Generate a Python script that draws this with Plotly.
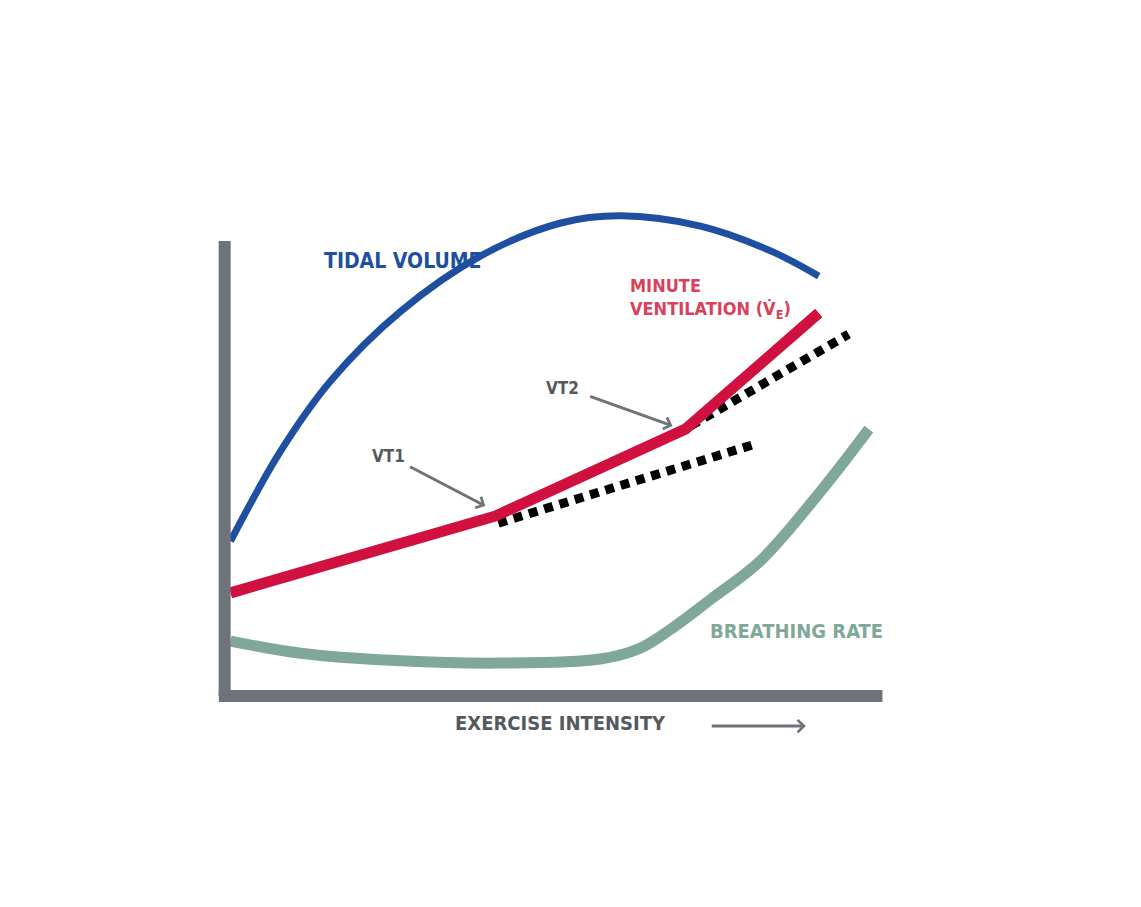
import plotly.graph_objects as go

# data in arbitrary units (x: exercise intensity 0-100, y: response 0-100)
tidal_x = [0, 7.7, 15.4, 26.2, 38.5, 50.8, 60, 72.3, 83.1, 90.5]
tidal_y = [33.3, 53.3, 68.9, 84.4, 96.7, 104, 105.6, 103.3, 97.8, 92.2]

vent_x = [0, 40.8, 70, 90.5]
vent_y = [21.8, 38.9, 58.2, 84]

trend1_x = [41.2, 80.8]
trend1_y = [37.3, 54.9]
trend2_x = [70.8, 95.1]
trend2_y = [58.9, 79.3]

breath_x = [0, 10.8, 26.2, 41.5, 56.9, 63, 68, 74, 81.5, 90.8, 98.2]
breath_y = [11.1, 8.4, 6.7, 6.2, 7.1, 9.5, 14, 20.5, 28.9, 44.4, 58.2]

FONT = "DejaVu Sans Condensed, Liberation Sans Narrow, sans-serif"
GRAY = "#6d7378"

fig = go.Figure()
fig.add_trace(go.Scatter(x=tidal_x, y=tidal_y, mode="lines", line=dict(color="#1f4fa0", width=7, shape="spline")))
fig.add_trace(go.Scatter(x=trend1_x, y=trend1_y, mode="lines", line=dict(color="black", width=9, dash="9px,7px")))
fig.add_trace(go.Scatter(x=trend2_x, y=trend2_y, mode="lines", line=dict(color="black", width=9, dash="9px,7px")))
fig.add_trace(go.Scatter(x=vent_x, y=vent_y, mode="lines", line=dict(color="#d0103f", width=11)))
fig.add_trace(go.Scatter(x=breath_x, y=breath_y, mode="lines", line=dict(color="#7fa898", width=11, shape="spline")))

# axes drawn as thick gray lines
fig.add_shape(type="line", x0=-0.9, x1=-0.9, y0=-1.1, y1=100, line=dict(color=GRAY, width=12))
fig.add_shape(type="line", x0=-1.8, x1=100.3, y0=-1.1, y1=-1.1, line=dict(color=GRAY, width=12))

fig.add_annotation(x=26.5, y=95.6, text="<b>TIDAL VOLUME</b>", showarrow=False,
                   font=dict(family=FONT, size=21, color="#1f4fa0"))
fig.add_annotation(x=61.1, y=87.3, text="<b>MINUTE<br>VENTILATION (V̇<sub>E</sub>)</b>", showarrow=False,
                   xanchor="left", align="left", font=dict(family=FONT, size=18, color="#d9415a"))
fig.add_annotation(x=87.1, y=13.3, text="<b>BREATHING RATE</b>", showarrow=False,
                   font=dict(family=FONT, size=20, color="#7fa898"))
fig.add_annotation(x=50.8, y=-7.1, text="<b>EXERCISE INTENSITY</b>", showarrow=False,
                   font=dict(family=FONT, size=20, color="#555a5e"))
fig.add_annotation(x=88.5, y=-7.8, ax=73.8, ay=-7.8, axref="x", ayref="y", text="",
                   showarrow=True, arrowhead=4, arrowsize=0.8, arrowwidth=3, arrowcolor=GRAY)

fig.add_annotation(x=24.3, y=52.2, text="<b>VT1</b>", showarrow=False,
                   font=dict(family=FONT, size=17, color="#555a5e"))
fig.add_annotation(x=39.2, y=41.1, ax=27.4, ay=50, axref="x", ayref="y", text="",
                   showarrow=True, arrowhead=4, arrowsize=0.8, arrowwidth=3, arrowcolor=GRAY)
fig.add_annotation(x=51.1, y=67.3, text="<b>VT2</b>", showarrow=False,
                   font=dict(family=FONT, size=17, color="#555a5e"))
fig.add_annotation(x=68, y=58.9, ax=55.1, ay=65.6, axref="x", ayref="y", text="",
                   showarrow=True, arrowhead=4, arrowsize=0.8, arrowwidth=3, arrowcolor=GRAY)

fig.update_layout(
    width=1141, height=907,
    margin=dict(l=190, r=236, t=188, b=170),
    paper_bgcolor="white", plot_bgcolor="white",
    showlegend=False,
    xaxis=dict(range=[-5, 105], visible=False),
    yaxis=dict(range=[-12, 110], visible=False),
)

fig.write_html("out.html")
